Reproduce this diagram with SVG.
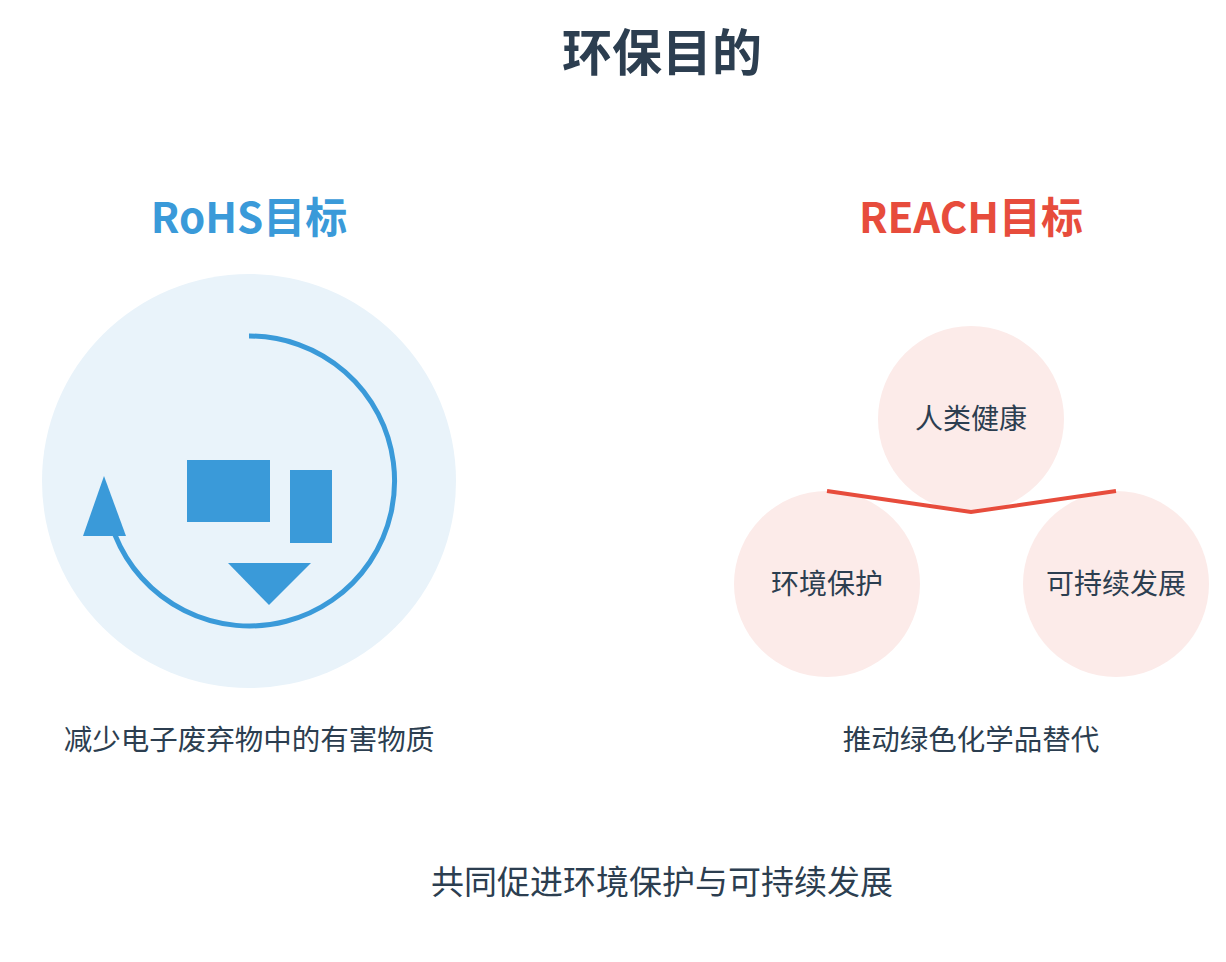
<svg xmlns="http://www.w3.org/2000/svg" width="1226" height="962" viewBox="0 0 1226 962">
<style>
text{font-family:"Noto Sans CJK SC","Noto Sans",sans-serif;text-anchor:middle;fill:#2c3e50}
.t{font-size:28.5px}
.n{font-size:28px}
.h{font-size:42px;font-weight:bold}
.c{fill:#fcebe9}
</style>
<rect width="1226" height="962" fill="#fff"/>
<text class="h" x="662" y="71" style="font-size:50px">环保目的</text>
<g id="rohs">
<text class="h" x="249" y="233" style="fill:#3a9ad9">RoHS目标</text>
<circle cx="249" cy="481" r="207" fill="#e9f3fa"/>
<path d="M249,336 A145,145 0 1 1 115,535" fill="none" stroke="#3a9ad9" stroke-width="5"/>
<polygon points="104,476 83,536 126,536" fill="#3a9ad9"/>
<rect x="187" y="460" width="83" height="62" fill="#3a9ad9"/>
<rect x="290" y="470" width="42" height="73" fill="#3a9ad9"/>
<polygon points="228,563 311,563 269,605" fill="#3a9ad9"/>
<text class="t" x="249" y="750">减少电子废弃物中的有害物质</text>
</g>
<g id="reach">
<text class="h" x="971" y="233" style="fill:#e74c3c">REACH目标</text>
<g id="n1"><circle class="c" cx="971" cy="419" r="93"/><text class="n" x="971" y="429">人类健康</text></g>
<g id="n2"><circle class="c" cx="827" cy="584" r="93"/><text class="n" x="827" y="594">环境保护</text></g>
<g id="n3"><circle class="c" cx="1116" cy="584" r="93"/><text class="n" x="1116" y="594">可持续发展</text></g>
<g id="connectors"><polyline points="827,491 971,512 1116,491" fill="none" stroke="#e74c3c" stroke-width="4"/></g>
<text class="t" x="971" y="750">推动绿色化学品替代</text>
</g>
<text class="t" x="662" y="894" style="font-size:33px">共同促进环境保护与可持续发展</text>
</svg>
